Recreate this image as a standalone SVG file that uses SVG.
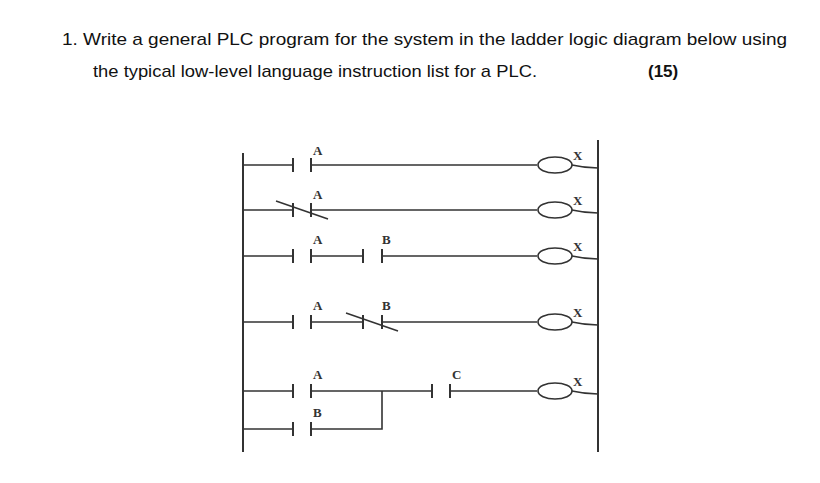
<svg xmlns="http://www.w3.org/2000/svg" width="820" height="483" viewBox="0 0 820 483">
<style>
.t{font-family:"Liberation Sans",Arial,sans-serif;font-size:17px;fill:#111}
.l{fill:none;stroke:#333;stroke-width:1.6}
.c{fill:none;stroke:#333;stroke-width:2}
.lb{font-family:"Liberation Serif",serif;font-size:13px;font-weight:bold;fill:#333}
</style>
<rect width="820" height="483" fill="#fff"/>
<text class="t" x="62" y="45" textLength="725" lengthAdjust="spacingAndGlyphs">1.  Write a general PLC program for the system in the ladder logic diagram below using</text>
<text class="t" x="93" y="77" textLength="444" lengthAdjust="spacingAndGlyphs">the typical low-level language instruction list for a PLC.</text>
<text class="t" x="648" y="77" font-weight="bold">(15)</text>
<g id="rails">
<line class="c" x1="243" y1="153" x2="243" y2="452"/>
<line class="c" x1="598" y1="140" x2="598" y2="452"/>
</g>
<g id="connectors">
<path class="l" d="M243 165H293M311 165H537M572 165Q585 168 598 168"/>
<path class="l" d="M243 210H293M311 210H537M572 210Q585 213 598 213"/>
<path class="l" d="M243 256H293M311 256H363M382 256H537M572 256Q585 259 598 259"/>
<path class="l" d="M243 322H293M311 322H363M382 322H537M572 322Q585 325 598 325"/>
<path class="l" d="M243 391H293M311 391H432M450 391H537M572 391Q585 394 598 394"/>
<path class="l" d="M243 429H293M311 429H382V391"/>
</g>
<g id="contacts">
<path class="c" d="M293 158V172M311 158V172"/>
<path class="c" d="M293 203V217M311 203V217"/><line class="l" x1="276" y1="201" x2="328" y2="219"/>
<path class="c" d="M293 249V263M311 249V263M363 249V263M382 249V263"/>
<path class="c" d="M293 315V329M311 315V329M363 315V329M382 315V329"/><line class="l" x1="346" y1="313" x2="398" y2="331"/>
<path class="c" d="M293 384V398M311 384V398M432 384V398M450 384V398"/>
<path class="c" d="M293 422V436M311 422V436"/>
</g>
<g id="coils" fill="#fff" stroke="#333" stroke-width="1.6">
<ellipse cx="555" cy="165" rx="17" ry="8"/>
<ellipse cx="555" cy="210" rx="17" ry="8"/>
<ellipse cx="555" cy="256" rx="17" ry="8"/>
<ellipse cx="555" cy="322" rx="17" ry="8"/>
<ellipse cx="555" cy="391" rx="17" ry="8"/>
</g>
<g id="labels">
<text class="lb" x="313" y="155">A</text>
<text class="lb" x="313" y="199">A</text>
<text class="lb" x="313" y="244">A</text><text class="lb" x="382" y="244">B</text>
<text class="lb" x="313" y="310">A</text><text class="lb" x="382" y="310">B</text>
<text class="lb" x="313" y="379">A</text><text class="lb" x="452" y="379">C</text>
<text class="lb" x="313" y="417">B</text>
<text class="lb" x="573" y="160">X</text>
<text class="lb" x="573" y="205">X</text>
<text class="lb" x="573" y="251">X</text>
<text class="lb" x="573" y="317">X</text>
<text class="lb" x="573" y="386">X</text>
</g>
</svg>
